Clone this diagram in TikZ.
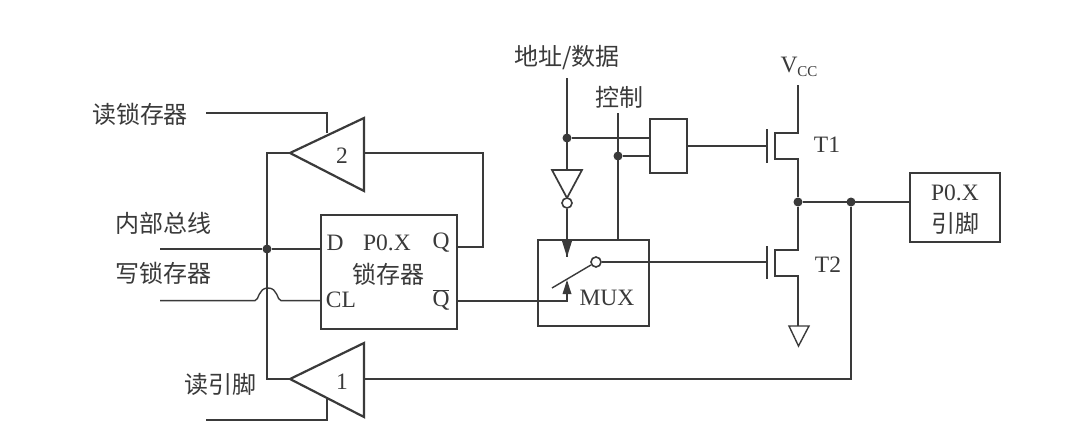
\documentclass[tikz,border=0pt]{standalone}
\usepackage{fontspec}
\setmainfont{Liberation Serif}
\newfontfamily\cjk{Noto Sans CJK SC}
\definecolor{ink}{HTML}{3A3A3A}
\tikzset{
  x=1pt,y=-1pt,
  wire/.style={draw=ink,line width=1.4pt,line join=miter},
  heavy/.style={draw=ink,line width=2.2pt,line join=miter},
  boxnode/.style={draw=ink,inner sep=0pt,outer sep=0pt},
  lab/.style={text=ink,inner sep=0pt,font=\fontsize{23.5}{25}\selectfont},
  cn/.style={text=ink,inner sep=0pt,font=\cjk\fontsize{24}{26}\selectfont},
  dot/.style={circle,fill=ink,draw=none,minimum size=9pt,inner sep=0pt},
  ring/.style={circle,draw=ink,fill=white,line width=1.6pt,minimum size=10pt,inner sep=0pt},
  tip/.style={fill=ink,draw=none}
}
\begin{document}
\begin{tikzpicture}
\useasboundingbox[fill=white] (0,0) rectangle (1080,439);
% boxes
\node[boxnode,line width=2.2pt,minimum width=136pt,minimum height=114pt] (latch) at (389,272) {};
\node[boxnode,line width=1.4pt,minimum width=111pt,minimum height=86pt] (mux) at (593.5,283) {};
\node[boxnode,line width=1.4pt,minimum width=37pt,minimum height=54pt] (gate) at (668.5,146) {};
\node[boxnode,line width=2.2pt,minimum width=90pt,minimum height=69pt] (pin) at (955,207.5) {};
% named points
\coordinate (t2apex) at (290,153); \coordinate (t2a) at (364,118); \coordinate (t2b) at (364,191);
\coordinate (t2in) at (364,153); \coordinate (t2en) at (327,133);
\coordinate (t1apex) at (290,379); \coordinate (t1a) at (364,343); \coordinate (t1b) at (364,417);
\coordinate (t1in) at (364,379); \coordinate (t1en) at (327,398);
\coordinate (rl) at (206,113); \coordinate (rp) at (206,420);
\coordinate (dstart) at (160,249); \coordinate (clstart) at (160,300.6);
\coordinate (jl) at (255,300.6); \coordinate (jr) at (281,300.6);
\coordinate (addr) at (567,78); \coordinate (ctrl) at (618,113);
\coordinate (inva) at (552,170); \coordinate (invb) at (582,170); \coordinate (invt) at (567,170); \coordinate (invc) at (567,198);
\coordinate (muxtip) at (567,257);
\coordinate (swpiv) at (552,288); \coordinate (swup) at (567,282); \coordinate (qturn) at (567,301);
\coordinate (vcc) at (798,85); \coordinate (t1d) at (798,133); \coordinate (t1s) at (798,159);
\coordinate (t2d) at (798,250); \coordinate (t2s) at (798,276); \coordinate (gnd) at (798,326);
\coordinate (g1) at (767,146); \coordinate (g2) at (767,262);
% dots and rings
\node[dot] (dbus) at (267,249) {};
\node[dot] (daddr) at (567,138) {};
\node[dot] (dctrl) at (618,156) {};
\node[dot] (dmid) at (798,202) {};
\node[dot] (dout) at (851,202) {};
% triangles
\draw[heavy] (t2apex) -- (t2a) -- (t2b) -- cycle;
\draw[heavy] (t1apex) -- (t1a) -- (t1b) -- cycle;
% tristate wires
\draw[wire] (rl) -- (rl -| t2en) -- (t2en);
\draw[wire] (rp) -- (rp -| t1en) -- (t1en);
\draw[wire] (t2apex) -- (t2apex -| dbus) -- (t1apex -| dbus) -- (t1apex);
\draw[wire] (t2in) -- (483,153) -- (483,247) -- (latch.east |- 0,247);
\draw[wire] (dstart) -- (dbus) -- (latch.west |- dbus);
\draw[wire] (clstart) -- (jl) .. controls (259,300.6) and (258,288) .. (268,288) .. controls (278,288) and (277,300.6) .. (jr) -- (latch.west |- jr);
\draw[wire] (t1in) -- (t1in -| dout) -- (dout);
% qbar to switch
\draw[wire] (latch.east |- qturn) -- (qturn) -- (swup);
\fill[tip] (567,280) -- (562.5,294) -- (571.5,294) -- cycle;
% addr, ctrl, gate
\draw[wire] (addr) -- (invt);
\draw[wire] (daddr) -- (daddr -| gate.west);
\draw[wire] (ctrl) -- (ctrl |- mux.north);
\draw[wire] (dctrl) -- (dctrl -| gate.west);
\draw[heavy,line width=1.7pt] (inva) -- (invb) -- (invc) -- cycle;
\node[ring] (bub) at (567,203) {};
\draw[wire] (bub) -- (muxtip);
\fill[tip] (muxtip) -- (562,241) -- (572,241) -- cycle;
% switch
\node[ring] (swring) at (596,262) {};
\draw[wire] (swpiv) -- (swring);
\draw[wire] (swring) -- (g2);
\draw[wire] (gate.east |- g1) -- (g1);
% transistors
\draw[heavy,line width=1.9pt] (767,129) -- (767,163);
\draw[heavy,line width=1.9pt] (767,246) -- (767,279);
\draw[wire,line width=1.6pt] (vcc) -- (t1d) -- (775,133) -- (775,159) -- (t1s) -- (dmid) -- (t2d) -- (775,250) -- (775,276) -- (t2s) -- (gnd);
\draw[wire] (789,326) -- (809,326) -- (798.5,346) -- cycle;
\draw[wire] (dmid) -- (pin.west |- dmid);
% labels
\node[cn] (l1) at (140,114) {读锁存器};
\node[cn] (l2) at (163,223) {内部总线};
\node[cn] (l3) at (163,273) {写锁存器};
\node[cn] (l4) at (220,384) {读引脚};
\node[cn] (l5) at (567,58) {地址/数据};
\node[cn] (l6) at (619,97) {控制};
\node[cn] (l7) at (388,274) {锁存器};
\node[cn] (l8) at (955,223) {引脚};
\node[lab] (t1) at (342,156) {2};
\node[lab] (t2) at (342,382) {1};
\node[lab] (t3) at (335,243) {D};
\node[lab] (t4) at (387,243) {P0.X};
\node[lab] (t5) at (441,243) {Q};
\node[lab] (t6) at (341,300) {CL};
\node[lab] (t7) at (441,300) {$\overline{\hbox{Q}}$};
\node[lab] (t8) at (607,298) {MUX};
\node[lab] (t9) at (955,193) {P0.X};
\node[lab] (t10) at (827,145) {T1};
\node[lab] (t11) at (828,265) {T2};
\node[lab] (t12) at (799,67) {V\raisebox{-4pt}{\fontsize{15}{15}\selectfont CC}};
\end{tikzpicture}
\end{document}
